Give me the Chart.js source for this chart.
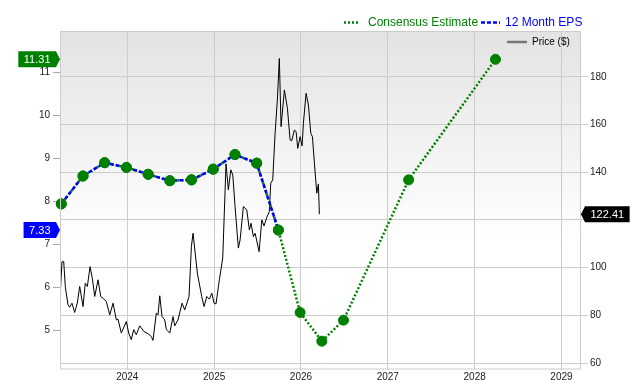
<!DOCTYPE html>
<html>
<head>
<meta charset="utf-8">
<script src="https://cdn.jsdelivr.net/npm/chart.js@4.4.1/dist/chart.umd.min.js"></script>
<style>
html,body{margin:0;padding:0;background:#fff;}
#wrap{width:640px;height:380px;position:relative;}
</style>
</head>
<body>
<div id="wrap"><canvas id="c" width="640" height="380"></canvas></div>
<script>
// ---- data ----
const yearTicks = [2024, 2025, 2026, 2027, 2028, 2029];
const leftTicks = [5, 6, 7, 8, 9, 10, 11];
const rightTicks = [60, 80, 100, 120, 140, 160, 180];

// 12 Month EPS (actual), x in decimal years
const epsDates = [2023.24, 2023.49, 2023.74, 2023.99, 2024.24, 2024.49, 2024.74, 2024.99, 2025.24, 2025.49, 2025.74];
const epsValues = [7.94, 8.59, 8.90, 8.79, 8.63, 8.48, 8.50, 8.75, 9.09, 8.89, 7.33];

// Consensus estimates
const estDates = [2025.99, 2026.24, 2026.49, 2027.24, 2028.24];
const estValues = [5.41, 4.74, 5.23, 8.50, 11.31];

// Price ($)
const priceDates = [2023.225, 2023.248, 2023.268, 2023.286, 2023.317, 2023.337, 2023.363, 2023.394, 2023.424, 2023.452,
  2023.490, 2023.516, 2023.540, 2023.571, 2023.597, 2023.625, 2023.663, 2023.694, 2023.720, 2023.758,
  2023.798, 2023.836, 2023.874, 2023.893, 2023.931, 2023.989, 2024.016, 2024.046, 2024.074, 2024.104,
  2024.143, 2024.193, 2024.239, 2024.277, 2024.296, 2024.334, 2024.354, 2024.374, 2024.400, 2024.431,
  2024.450, 2024.489, 2024.527, 2024.546, 2024.584, 2024.631, 2024.662, 2024.711, 2024.738, 2024.757,
  2024.807, 2024.857, 2024.884, 2024.915, 2024.945, 2024.973, 2024.999, 2025.022, 2025.060, 2025.099,
  2025.137, 2025.164, 2025.192, 2025.215, 2025.241, 2025.279, 2025.299, 2025.337, 2025.376, 2025.406,
  2025.425, 2025.452, 2025.472, 2025.518, 2025.549, 2025.575, 2025.606, 2025.636, 2025.652, 2025.675,
  2025.702, 2025.728, 2025.751, 2025.771, 2025.809, 2025.844, 2025.875, 2025.894, 2025.924, 2025.944,
  2025.963, 2025.990, 2026.013, 2026.028, 2026.059, 2026.086, 2026.113, 2026.132, 2026.155, 2026.182,
  2026.201, 2026.212];
const priceValues = [87.2, 102.5, 102.5, 92.1, 84.4, 83.4, 85.1, 81.2, 85.1, 92.1,
  83.7, 93.5, 92.1, 100.4, 95.6, 87.9, 94.9, 87.9, 87.2, 85.8,
  80.2, 85.1, 78.1, 78.4, 72.6, 77.4, 72.6, 69.8, 74.0, 71.9,
  75.6, 73.2, 72.3, 71.1, 69.5, 80.9, 80.2, 88.2, 79.5, 78.1,
  74.0, 72.6, 79.5, 75.6, 78.1, 85.1, 82.3, 87.9, 108.8, 114.4,
  97.7, 87.9, 83.7, 87.9, 86.8, 89.3, 85.1, 84.8, 94.9, 104.0,
  143.5, 132.6, 141.0, 138.8, 125.6, 108.2, 111.6, 125.6, 124.2, 115.8,
  118.6, 113.0, 114.4, 106.7, 120.0, 117.5, 121.1, 123.5, 135.4, 136.8,
  156.3, 170.3, 187.7, 159.1, 174.5, 166.8, 153.5, 153.2, 157.7, 157.0,
  150.0, 154.9, 151.0, 160.5, 173.1, 168.2, 156.3, 154.9, 143.8, 131.2,
  135.1, 122.41];

// ---- helpers ----
const FONT = '"Liberation Sans", Arial, Helvetica, sans-serif';
const GREEN = '#008000';
const BLUE = '#0000ff';
const GRID = '#cccccc';
const lastPrice = priceValues[priceValues.length - 1];

const consensusData = epsDates.map((d, i) => ({x: d, y: epsValues[i]}))
  .concat(estDates.map((d, i) => ({x: d, y: estValues[i]})));
const epsData = epsDates.map((d, i) => ({x: d, y: epsValues[i]}));
const priceData = priceDates.map((d, i) => ({x: d, y: priceValues[i]}));

function drawTag(ctx, tipX, y, text, color, dir) {
  ctx.save();
  ctx.font = '11px ' + FONT;
  const w = ctx.measureText(text).width + 11;
  const h = 16, a = 4;
  ctx.beginPath();
  if (dir > 0) {
    ctx.moveTo(tipX, y);
    ctx.lineTo(tipX - a, y - h / 2);
    ctx.lineTo(tipX - a - w, y - h / 2);
    ctx.lineTo(tipX - a - w, y + h / 2);
    ctx.lineTo(tipX - a, y + h / 2);
  } else {
    ctx.moveTo(tipX, y);
    ctx.lineTo(tipX + a, y - h / 2);
    ctx.lineTo(tipX + a + w, y - h / 2);
    ctx.lineTo(tipX + a + w, y + h / 2);
    ctx.lineTo(tipX + a, y + h / 2);
  }
  ctx.closePath();
  ctx.fillStyle = color;
  ctx.fill();
  ctx.fillStyle = '#ffffff';
  ctx.textBaseline = 'middle';
  ctx.textAlign = 'center';
  const cx = dir > 0 ? tipX - a - w / 2 : tipX + a + w / 2;
  ctx.fillText(text, cx, y + 0.5);
  ctx.restore();
}

const decor = {
  id: 'decor',
  beforeDraw(chart) {
    const {ctx, chartArea: ca} = chart;
    ctx.save();
    const g = ctx.createLinearGradient(0, ca.top, 0, ca.bottom);
    g.addColorStop(0, '#e3e3e3');
    g.addColorStop(0.62, '#ffffff');
    g.addColorStop(1, '#ffffff');
    ctx.fillStyle = g;
    ctx.fillRect(ca.left, ca.top, ca.right - ca.left, ca.bottom - ca.top);
    ctx.restore();
  },
  afterDraw(chart) {
    const {ctx, chartArea: ca, scales} = chart;
    ctx.save();
    ctx.strokeStyle = GRID;
    ctx.lineWidth = 1;
    ctx.strokeRect(ca.left + 0.5, ca.top + 0.5, ca.right - ca.left - 1, ca.bottom - ca.top - 1);

    ctx.font = '12px ' + FONT;
    ctx.textBaseline = 'middle';
    ctx.textAlign = 'left';
    const ly = 22.5;
    ctx.lineWidth = 2.5;
    ctx.strokeStyle = GREEN;
    ctx.setLineDash([2, 2]);
    ctx.beginPath(); ctx.moveTo(344, ly); ctx.lineTo(360, ly); ctx.stroke();
    ctx.fillStyle = GREEN;
    ctx.fillText('Consensus Estimate', 368, ly);
    ctx.strokeStyle = BLUE;
    ctx.setLineDash([4, 2]);
    ctx.beginPath(); ctx.moveTo(481, ly); ctx.lineTo(500, ly); ctx.stroke();
    ctx.fillStyle = BLUE;
    ctx.fillText('12 Month EPS', 505, ly);
    ctx.setLineDash([]);

    ctx.strokeStyle = '#777777';
    ctx.lineWidth = 2.5;
    ctx.beginPath(); ctx.moveTo(507, 42); ctx.lineTo(527, 42); ctx.stroke();
    ctx.font = '10px ' + FONT;
    ctx.fillStyle = '#000';
    ctx.fillText('Price ($)', 532, 42.5);
    ctx.restore();

    const yL = scales.yL, yR = scales.yR;
    drawTag(ctx, ca.left, yL.getPixelForValue(estValues[estValues.length - 1]), estValues[estValues.length - 1].toFixed(2), GREEN, 1);
    drawTag(ctx, ca.left, yL.getPixelForValue(epsValues[epsValues.length - 1]), epsValues[epsValues.length - 1].toFixed(2), BLUE, 1);
    drawTag(ctx, ca.right, yR.getPixelForValue(lastPrice), lastPrice.toFixed(2), '#000000', -1);
  }
};

new Chart(document.getElementById('c'), {
  type: 'line',
  data: {
    datasets: [
      {
        label: '12 Month EPS',
        data: epsData,
        yAxisID: 'yL',
        borderColor: BLUE,
        borderWidth: 2.5,
        borderDash: [4, 2],
        pointRadius: 5,
        pointBackgroundColor: GREEN,
        pointBorderColor: GREEN,
        pointBorderWidth: 1,
        tension: 0,
        clip: false,
        order: 1
      },
      {
        label: 'Consensus Estimate',
        data: consensusData,
        yAxisID: 'yL',
        borderColor: GREEN,
        borderWidth: 2.5,
        borderDash: [2, 2],
        pointRadius: 5,
        pointBackgroundColor: GREEN,
        pointBorderColor: GREEN,
        pointBorderWidth: 1,
        tension: 0,
        clip: false,
        order: 2
      },
      {
        label: 'Price ($)',
        data: priceData,
        yAxisID: 'yR',
        borderColor: '#000000',
        borderWidth: 1,
        pointRadius: 0,
        tension: 0,
        order: 3
      }
    ]
  },
  options: {
    responsive: false,
    animation: false,
    devicePixelRatio: 1,
    layout: {padding: {top: 31, left: 0, right: 0, bottom: 0}},
    plugins: {legend: {display: false}, tooltip: {enabled: false}},
    scales: {
      x: {
        type: 'linear',
        min: 2023.225,
        max: 2029.225,
        afterBuildTicks: s => { s.ticks = yearTicks.map(v => ({value: v})); },
        afterFit: s => { s.height = 10.5; },
        grid: {color: GRID, drawTicks: false},
        border: {display: false},
        ticks: {padding: 2, color: '#222', font: {size: 10, family: FONT}, callback: v => String(v), maxRotation: 0, autoSkip: false}
      },
      yL: {
        type: 'linear',
        position: 'left',
        min: 4.08,
        max: 11.97,
        afterBuildTicks: s => { s.ticks = leftTicks.map(v => ({value: v})); },
        afterFit: s => { s.width = 60; },
        grid: {drawOnChartArea: false, color: '#aaaaaa', tickLength: 7},
        border: {display: false},
        ticks: {padding: 3, color: '#222', font: {size: 10, family: FONT}, callback: v => String(v)}
      },
      yR: {
        type: 'linear',
        position: 'right',
        min: 57.3,
        max: 199.2,
        afterBuildTicks: s => { s.ticks = rightTicks.map(v => ({value: v})); },
        afterFit: s => { s.width = 59; },
        grid: {color: GRID, tickLength: 7},
        border: {display: false},
        ticks: {padding: 2, color: '#222', font: {size: 10, family: FONT},
          callback: v => (Math.abs(v - lastPrice) < 8 ? '' : String(v))}
      }
    }
  },
  plugins: [decor]
});
</script>
</body>
</html>
